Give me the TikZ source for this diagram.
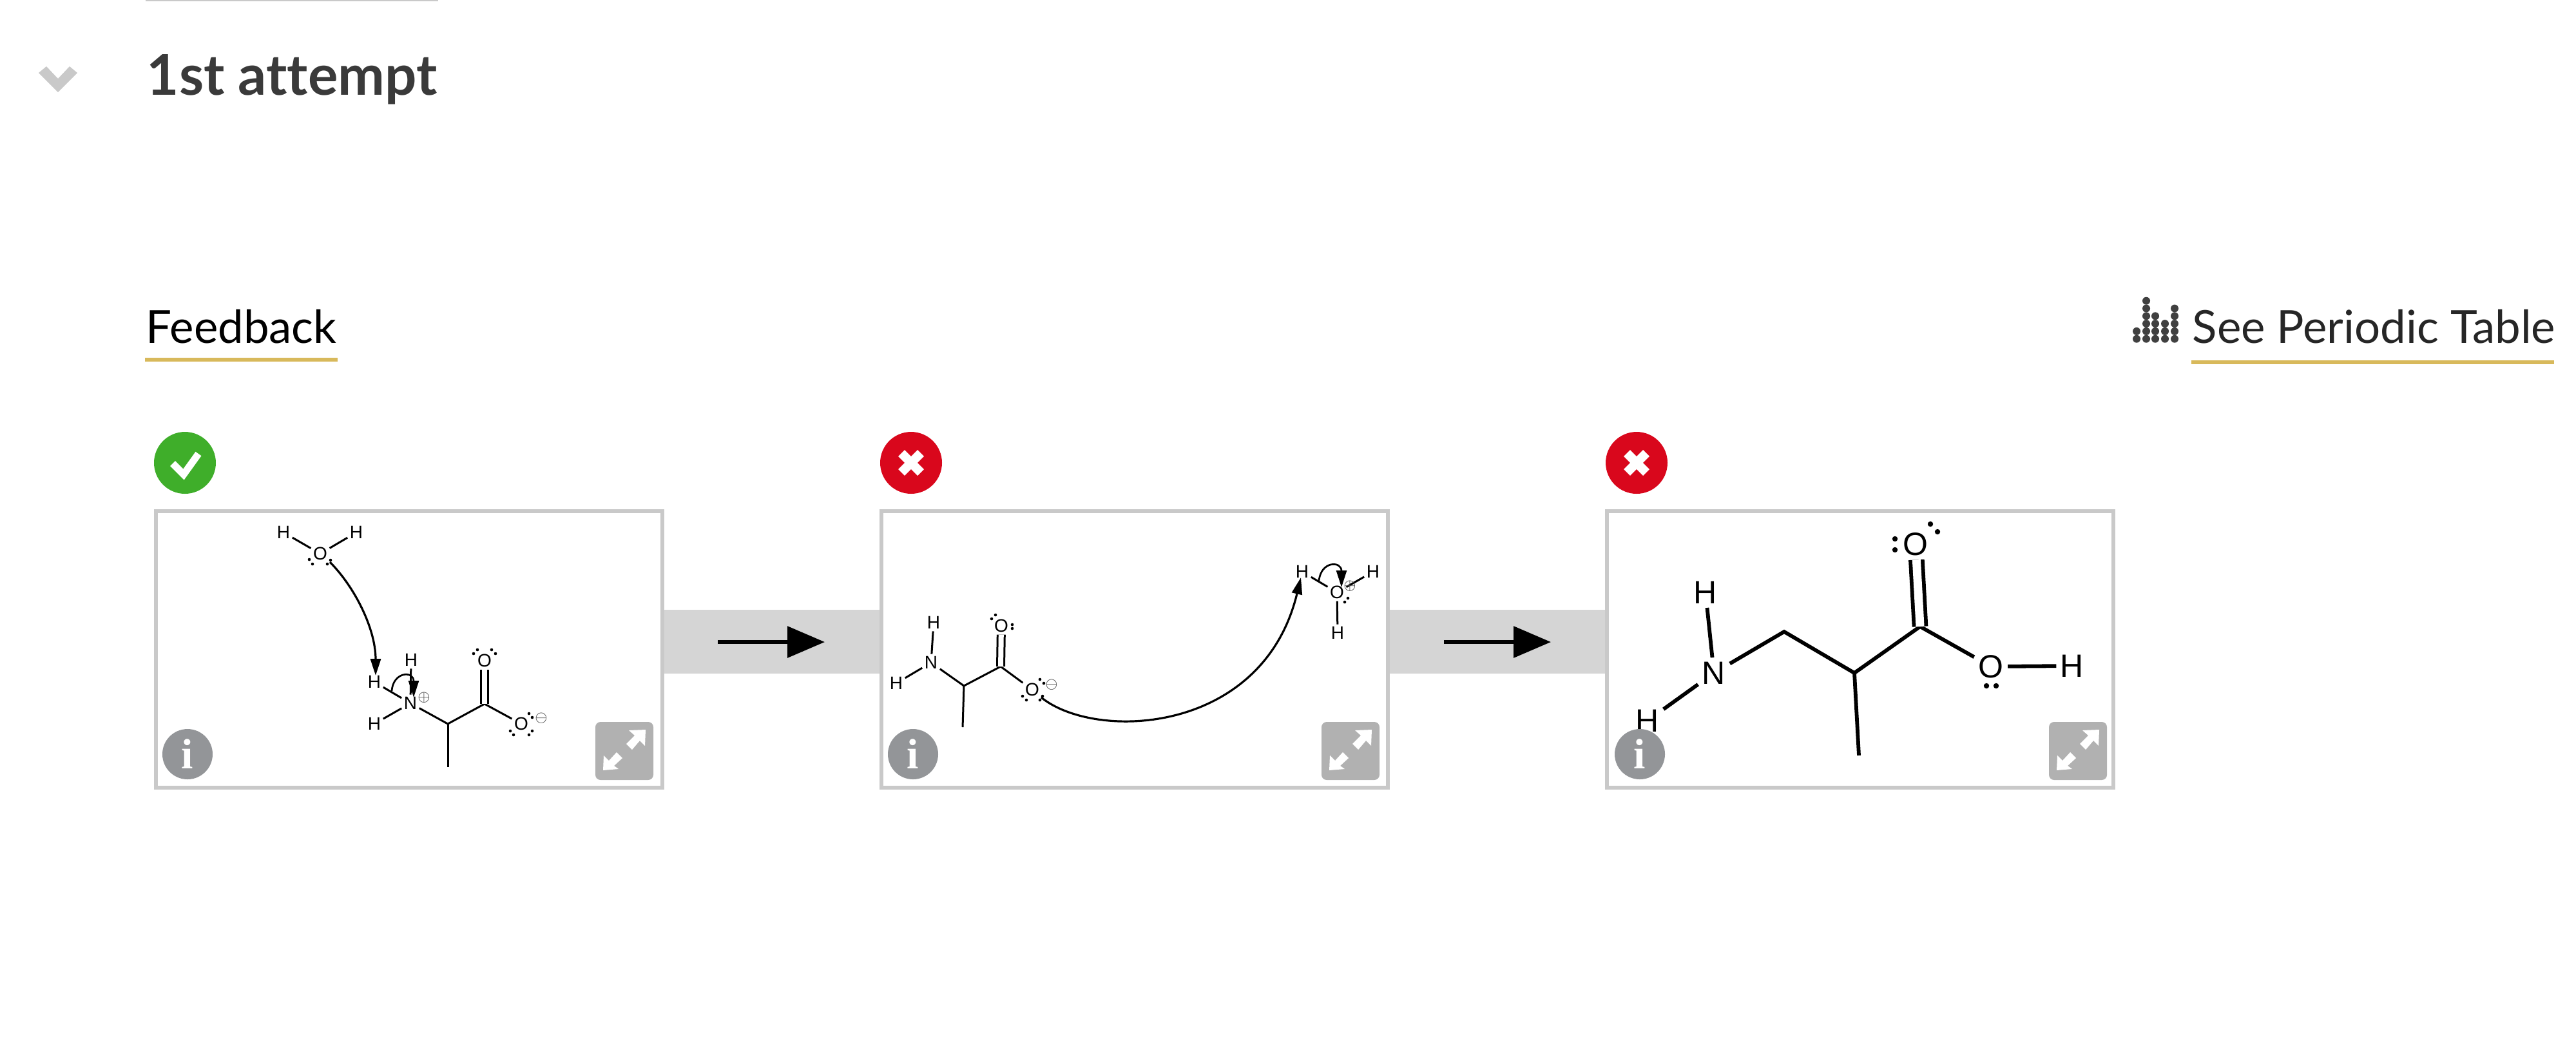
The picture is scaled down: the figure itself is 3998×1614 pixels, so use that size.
\documentclass[tikz,border=0pt]{standalone}
\usepackage{fontspec}
\setmainfont{Lato}[Ligatures=NoCommon]
\newfontfamily\atomfont{Liberation Sans}
\newfontfamily\infofont{Liberation Serif}
\usetikzlibrary{arrows.meta,positioning}
\definecolor{framegrey}{HTML}{C9C9C9}
\definecolor{bandgrey}{HTML}{D5D5D5}
\definecolor{infogrey}{HTML}{939598}
\definecolor{btngrey}{HTML}{B1B1B1}
\definecolor{okgreen}{HTML}{3FAE2A}
\definecolor{badred}{HTML}{D9071C}
\definecolor{gold}{HTML}{D8B95B}
\definecolor{headgrey}{HTML}{3A3A3A}
\tikzset{
  atom/.style={inner sep=0.3mm,font=\atomfont\fontsize{2.8mm}{3mm}\selectfont},
  bigatom/.style={inner sep=0.6mm,font=\atomfont\fontsize{5mm}{5.4mm}\selectfont},
  bond/.style={line width=0.3mm},
  bigbond/.style={line width=0.58mm},
  charge/.style={inner sep=0pt,text=black!70,font=\fontsize{2.2mm}{2.2mm}\selectfont},
  curly/.style={line width=0.32mm,-{Triangle[length=2.6mm,width=1.6mm]}},
  webtext/.style={anchor=base west,inner sep=0pt}
}
\begin{document}
\begin{tikzpicture}[x=0.1mm,y=-0.1mm]
\useasboundingbox (0,0) rectangle (3998,1614);
%Kopf
\fill[framegrey] (226,0) rectangle (680,2);
\fill[framegrey] (60,113) -- (72,103) -- (90,122) -- (108,103) -- (120,113) -- (90,143) -- cycle;
\node[webtext,text=headgrey,font=\bfseries\fontsize{8.7mm}{10mm}\selectfont] (title) at (227,147) {1st attempt};
\node[webtext,font=\fontsize{7.08mm}{8mm}\selectfont] (feedback) at (226,532) {Feedback};
\fill[gold] (225,555) rectangle (524,561);
\node[webtext,text=black!85,font=\fontsize{7.08mm}{8mm}\selectfont] (periodic) at (3402,532) {See Periodic Table};
\fill[gold] (3401,559) rectangle (3964,565);
\foreach \cx/\rows in {3316/2,3331/6,3345/4,3360/3,3375/5}{
  \foreach \r in {1,...,\rows}{
    \fill[black!75] (\cx,525.7-11.8*\r+11.8) circle[radius=0.6mm];
  }
}
%Baender und Pfeile
\fill[bandgrey] (1029,946) rectangle (1365,1045);
\fill[bandgrey] (2155,946) rectangle (2491,1045);
\foreach \n/\ax in {one/1114,two/2241}{
  \coordinate (from\n) at (\ax,996);
  \coordinate (to\n) at (\ax+166,996);
  \draw[line width=0.6mm,-{Triangle[length=5.8mm,width=4.8mm]}] (from\n) -- (to\n);
}
%Rahmen
\foreach \px in {242,1368,2494}{
  \draw[framegrey,line width=0.6mm,fill=white] (\px,793) rectangle (\px+786,1222);
}
%Wasser
\node[atom] (wO) at (497,859) {O};
\node[atom] (wHa) at (440,826) {H};
\node[atom] (wHb) at (553,826) {H};
\draw[bond] (wO) -- (wHa);
\draw[bond] (wO) -- (wHb);
\foreach \x/\y in {480/868,485/875,513/869,508/875}{
  \fill (\x,\y) circle[radius=0.23mm];
}
%Ammonium
\node[atom] (aN) at (637,1091) {N};
\node[atom] (aHa) at (638,1024) {H};
\node[atom] (aHb) at (581,1058) {H};
\node[atom] (aHc) at (581,1123) {H};
\coordinate (aCa) at (695,1123);
\coordinate (aMe) at (695,1190);
\coordinate (aC) at (752,1092);
\node[atom] (aOa) at (752,1025) {O};
\node[atom] (aOb) at (809,1123) {O};
\draw[bond] (aN) -- (aHa);
\draw[bond] (aN) -- (aHb);
\draw[bond] (aN) -- (aHc);
\draw[bond] (aN) -- (aCa) -- (aC);
\draw[bond] (aCa) -- (aMe);
\draw[bond] (aC) -- (aOb);
\draw[bond,double,double distance=0.8mm] (aC) -- (aOa);
\foreach \x/\y in {735/1014,741/1008,763/1008,769/1014,821/1107,826/1113,826/1134,821/1140,792/1134,797/1140}{
  \fill (\x,\y) circle[radius=0.23mm];
}
\node[charge] (aPlus) at (658,1082) {$\oplus$};
\node[charge] (aMinus) at (840,1114) {$\ominus$};
\coordinate (wLone) at (512,872);
\coordinate (aHit) at (583,1048);
\draw[curly] (wLone) .. controls (550,910) and (583,975) .. (aHit);
\coordinate (aOut) at (608,1072);
\coordinate (aIn) at (642,1082);
\draw[curly,line width=0.27mm] (aOut) .. controls (610,1042) and (642,1040) .. (aIn);
%Mittleres Bild
\node[atom] (bN) at (1445,1028) {N};
\node[atom] (bHa) at (1449,966) {H};
\node[atom] (bHb) at (1391,1060) {H};
\coordinate (bCa) at (1496,1064);
\coordinate (bMe) at (1494,1128);
\coordinate (bC) at (1553,1034);
\node[atom] (bOa) at (1554,971) {O};
\node[atom] (bOb) at (1602,1070) {O};
\draw[bond] (bN) -- (bHa);
\draw[bond] (bN) -- (bHb);
\draw[bond] (bN) -- (bCa) -- (bC);
\draw[bond] (bCa) -- (bMe);
\draw[bond] (bC) -- (bOb);
\draw[bond,double,double distance=0.8mm] (bC) -- (bOa);
\foreach \x/\y in {1539/960,1545/954,1571/969,1571/975,1614/1054,1620/1060,1587/1080,1593/1086,1618/1080,1614/1086,2087/934,2092/928}{
  \fill (\x,\y) circle[radius=0.23mm];
}
\node[charge] (bMinus) at (1632,1062) {$\ominus$};
\node[atom] (hO) at (2075,919) {O};
\node[atom] (hHa) at (2021,887) {H};
\node[atom] (hHb) at (2131,887) {H};
\node[atom] (hHc) at (2076,982) {H};
\draw[bond] (hO) -- (hHa);
\draw[bond] (hO) -- (hHb);
\draw[bond] (hO) -- (hHc);
\node[charge] (hPlus) at (2095,909) {$\oplus$};
\coordinate (bLone) at (1616,1082);
\coordinate (hHit) at (2019,896);
\draw[curly] (bLone) .. controls (1700,1150) and (1960,1140) .. (hHit);
\coordinate (hOut) at (2047,901);
\coordinate (hIn) at (2082,911);
\draw[curly,line width=0.27mm] (hOut) .. controls (2050,870) and (2082,870) .. (hIn);
%Rechtes Bild
\node[bigatom] (cN) at (2660,1044) {N};
\node[bigatom] (cHa) at (2647,919) {H};
\node[bigatom] (cHb) at (2557,1118) {H};
\coordinate (cCa) at (2769,980);
\coordinate (cCb) at (2878,1044);
\coordinate (cMe) at (2885,1172);
\coordinate (cC) at (2980,972);
\node[bigatom] (cOa) at (2973,844) {O};
\node[bigatom] (cOb) at (3090,1034) {O};
\node[bigatom] (cHd) at (3216,1033) {H};
\draw[bigbond] (cN) -- (cHa);
\draw[bigbond] (cN) -- (cHb);
\draw[bigbond] (cN) -- (cCa) -- (cCb) -- (cC);
\draw[bigbond] (cCb) -- (cMe);
\draw[bigbond] (cC) -- (cOb);
\draw[bigbond] (cOb) -- (cHd);
\draw[bigbond,double,double distance=1.3mm] (cC) -- (cOa);
\foreach \x/\y in {2941/836,2941/853,2996/813,3007/825,3083/1064,3098/1064}{
  \fill (\x,\y) circle[radius=0.42mm];
}
%Status
\fill[okgreen] (287,718) circle[radius=4.8mm];
\draw[white,line width=1.1mm] (268,719) -- (285,736) -- (308,704);
\foreach \bx in {1414,2540}{
  \fill[badred] (\bx,718) circle[radius=4.8mm];
  \draw[white,line width=1.4mm] (\bx-15,703) -- (\bx+15,733);
  \draw[white,line width=1.4mm] (\bx-15,733) -- (\bx+15,703);
}
%Info und Vergroessern
\foreach \n/\ix/\bx in {a/291/924,b/1417/2051,c/2545/3180}{
  \node[circle,fill=infogrey,minimum size=7.8mm,inner sep=0pt,text=white,font=\infofont\bfseries\fontsize{6.6mm}{7mm}\selectfont] (info\n) at (\ix,1170) {i};
  \begin{scope}[shift={(\bx,1120)}]
    \fill[btngrey,rounded corners=0.8mm] (0,0) rectangle (90,90);
    \fill[white] (52,13) -- (78,12) -- (77,37) -- (69,29) -- (57,43) -- (48,34) -- (61,21) -- cycle;
    \fill[white] (12,75) -- (13,52) -- (21,60) -- (33,47) -- (42,56) -- (29,68) -- (36,73) -- cycle;
  \end{scope}
}
\end{tikzpicture}
\end{document}
